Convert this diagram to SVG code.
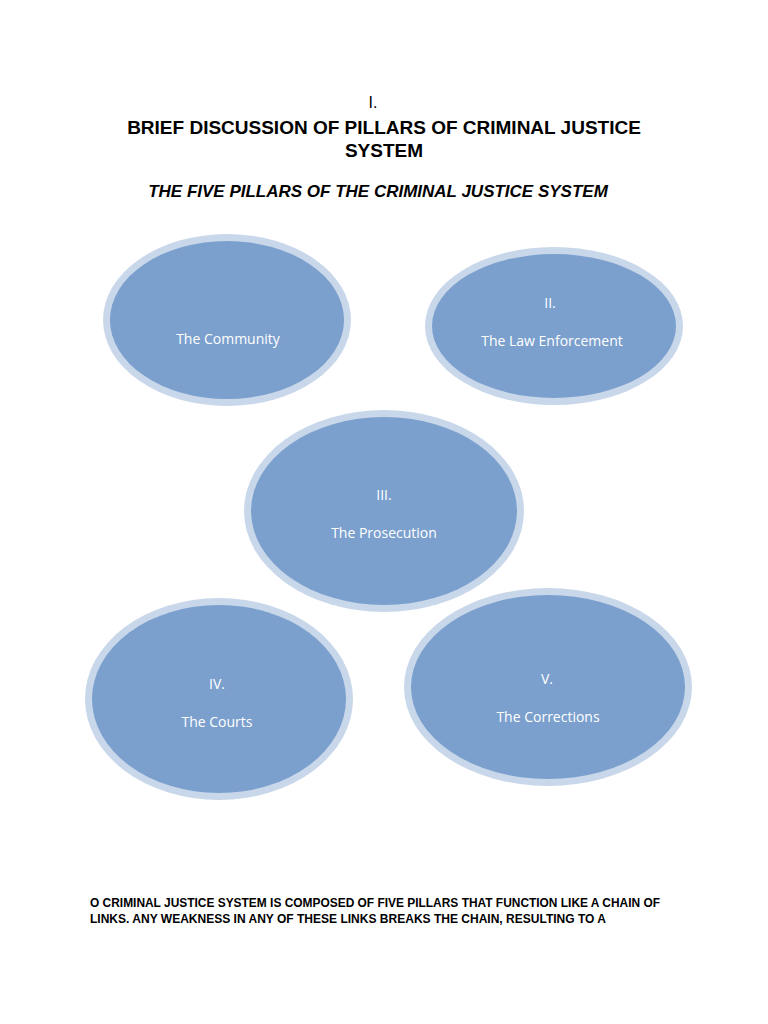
<svg xmlns="http://www.w3.org/2000/svg" width="768" height="1024" viewBox="0 0 768 1024">
<style>
.ring{fill:#c9d7ea}
.in{fill:#7ba0cd}
.t{font-family:"Open Sans","Noto Sans",sans-serif;font-size:14px;fill:#fff;text-anchor:middle}
.h{font-family:"Liberation Sans",Arial,sans-serif;font-weight:bold;fill:#000;text-anchor:middle}
.b{font-family:"Liberation Sans",Arial,sans-serif;font-weight:bold;font-size:12px;fill:#000}
</style>
<rect width="768" height="1024" fill="#fff"/>
<text x="373" y="108" font-family="Liberation Sans,Arial,sans-serif" font-size="16" text-anchor="middle">I.</text>
<text class="h" x="384" y="134" font-size="19">BRIEF DISCUSSION OF PILLARS OF CRIMINAL JUSTICE</text>
<text class="h" x="384" y="157" font-size="19">SYSTEM</text>
<text class="h" x="378" y="197" font-size="17" font-style="italic">THE FIVE PILLARS OF THE CRIMINAL JUSTICE SYSTEM</text>
<g id="n1"><ellipse class="ring" cx="227" cy="320" rx="124" ry="86"/><ellipse class="in" cx="227" cy="320" rx="117" ry="79"/><text class="t" x="228" y="344">The Community</text></g>
<g id="n2"><ellipse class="ring" cx="554" cy="326" rx="129" ry="79"/><ellipse class="in" cx="554" cy="326" rx="122" ry="72"/><text class="t" x="550" y="308">II.</text><text class="t" x="552" y="346">The Law Enforcement</text></g>
<g id="n3"><ellipse class="ring" cx="384" cy="511" rx="140" ry="101"/><ellipse class="in" cx="384" cy="511" rx="133" ry="94"/><text class="t" x="384" y="500">III.</text><text class="t" x="384" y="538">The Prosecution</text></g>
<g id="n4"><ellipse class="ring" cx="219" cy="699" rx="134" ry="101"/><ellipse class="in" cx="219" cy="699" rx="127" ry="94"/><text class="t" x="217" y="689">IV.</text><text class="t" x="217" y="727">The Courts</text></g>
<g id="n5"><ellipse class="ring" cx="548" cy="687" rx="144" ry="99"/><ellipse class="in" cx="548" cy="687" rx="137" ry="92"/><text class="t" x="547" y="684">V.</text><text class="t" x="548" y="722">The Corrections</text></g>
<g id="connectors"/>
<text class="b" x="90" y="907" textLength="570" lengthAdjust="spacingAndGlyphs">O CRIMINAL JUSTICE SYSTEM IS COMPOSED OF FIVE PILLARS THAT FUNCTION LIKE A CHAIN OF</text>
<text class="b" x="90" y="923" textLength="516" lengthAdjust="spacingAndGlyphs">LINKS. ANY WEAKNESS IN ANY OF THESE LINKS BREAKS THE CHAIN, RESULTING TO A</text>
</svg>
